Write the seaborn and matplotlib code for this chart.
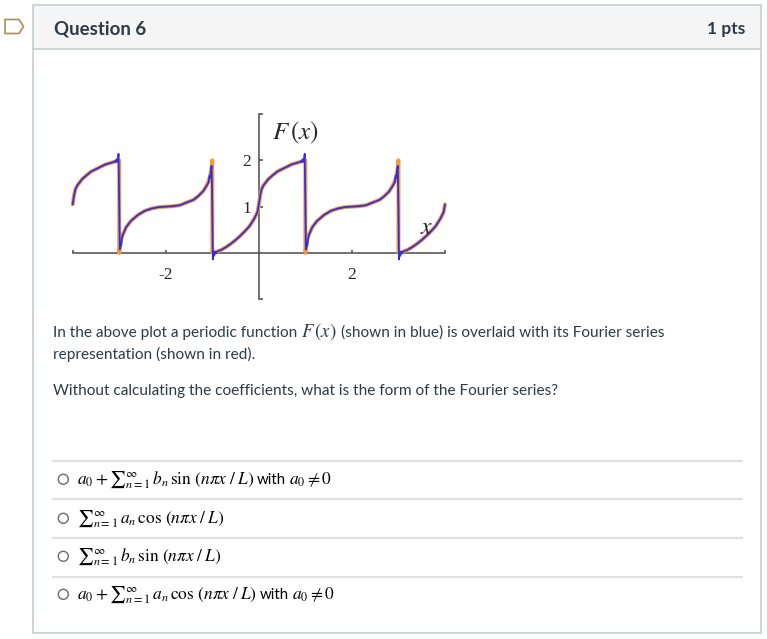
import numpy as np
import pandas as pd
import matplotlib
matplotlib.use("Agg")
import matplotlib.pyplot as plt
from matplotlib.patches import Rectangle, Polygon, Circle
import seaborn as sns

# --- data ------------------------------------------------------------------
# piece that is steep in the middle (offset from its centre -> value)
steep_u = [-1.0, -0.9, -0.8, -0.7, -0.6, -0.5, -0.4, -0.3, -0.2, -0.1, -0.03,
           0.0, 0.03, 0.06, 0.1, 0.2, 0.3, 0.4, 0.5, 0.6, 0.7, 0.8, 0.9, 1.0]
steep_y = [0.0, 0.03, 0.07, 0.13, 0.2, 0.28, 0.37, 0.47, 0.58, 0.74, 0.88,
           1.05, 1.25, 1.38, 1.46, 1.59, 1.68, 1.76, 1.81, 1.86, 1.91, 1.94, 1.97, 2.0]
# piece that is flat in the middle
flat_u = [-1.0, -0.97, -0.93, -0.85, -0.75, -0.6, -0.45, -0.3, -0.15, 0.0,
          0.15, 0.3, 0.45, 0.6, 0.7, 0.8, 0.87, 0.93, 0.97, 1.0]
flat_y = [0.0, 0.25, 0.38, 0.56, 0.69, 0.82, 0.91, 0.96, 0.99, 1.0,
          1.01, 1.03, 1.09, 1.15, 1.23, 1.33, 1.44, 1.58, 1.75, 2.0]

steep_centres = [-4, 0, 4]
flat_centres = [-2, 2]
jumps_after_steep = [-3, 1]
jumps_after_flat = [-1, 3]

# ripple of the series around each jump (offset -> value)
ripple_dx = [-0.08, -0.06, -0.045, -0.03, -0.015, 0.0, 0.012, 0.025, 0.04, 0.06, 0.08]
ripple_steep = [2.0, 1.96, 2.03, 1.98, 2.14, 1.05, 0.08, 0.2, 0.15, 0.33, 0.40]
ripple_flat = [1.52, 1.66, 1.62, 1.78, 1.88, 0.9, -0.14, 0.02, -0.06, 0.03, -0.01]

x_ticks = [-4, -2, 2, 4]
x_labels = ["", "-2", "2", ""]
y_ticks = [-1, 1, 2, 3]
y_labels = ["", "1", "2", ""]

option_math = [
    r"$a_0 + {\sum}_{n=1}^{\infty}\, b_n\, \sin\,(n\pi x\;/\;L)$",
    r"${\sum}_{n=1}^{\infty}\, a_n\, \cos\,(n\pi x\;/\;L)$",
    r"${\sum}_{n=1}^{\infty}\, b_n\, \sin\,(n\pi x\;/\;L)$",
    r"$a_0 + {\sum}_{n=1}^{\infty}\, a_n\, \cos\,(n\pi x\;/\;L)$",
]
option_tail = [r"$a_0 \neq 0$", None, None, r"$a_0 \neq 0$"]

# --- build the curves ---------------------------------------------------------
pieces = []
for c in [-4, -2, 0, 2, 4]:
    if c in steep_centres:
        u, y = np.array(steep_u), np.array(steep_y)
    else:
        u, y = np.array(flat_u), np.array(flat_y)
    x = c + u
    keep = (x >= -4 - 1e-9) & (x <= 4 + 1e-9)
    pieces.append(pd.DataFrame({"x": x[keep], "y": y[keep]}))
exact = pd.concat(pieces, ignore_index=True)

jumps = np.array(jumps_after_steep + jumps_after_flat)
dist = np.min(np.abs(exact["x"].values[:, None] - jumps[None, :]), axis=1)
series = [exact[dist > 0.095]]
for j in jumps_after_steep:
    series.append(pd.DataFrame({"x": j + np.array(ripple_dx), "y": ripple_steep}))
for j in jumps_after_flat:
    series.append(pd.DataFrame({"x": j + np.array(ripple_dx), "y": ripple_flat}))
series = pd.concat(series, ignore_index=True).sort_values("x")

# --- figure -----------------------------------------------------------------
sns.set_style("white")
plt.rcParams["mathtext.fontset"] = "stix"
plt.rcParams["font.family"] = ["Lato", "DejaVu Sans"]

W, H = 767, 639
fig = plt.figure(figsize=(W / 100, H / 100), dpi=100)
page = fig.add_axes([0, 0, 1, 1])
page.set_xlim(0, W)
page.set_ylim(H, 0)
page.axis("off")
renderer = fig.canvas.get_renderer()


def run(x, y, parts, **kw):
    # draw text pieces one after another on a shared baseline
    for txt, size, gap in parts:
        t = page.text(x + gap, y, txt, fontsize=size, va="baseline", ha="left", **kw)
        x = t.get_window_extent(renderer).x1
    return x


border = "#c7cdd1"
page.add_patch(Rectangle((33, 5), 728, 44, facecolor="#f5f5f5", edgecolor="none"))
page.add_patch(Rectangle((33, 5), 728, 628, fill=False, edgecolor=border, lw=1.2))
page.plot([33, 761], [49, 49], color=border, lw=1.2)
page.add_patch(Polygon([(5, 19.5), (19, 19.5), (23.5, 26.5), (19, 33.5), (5, 33.5)],
                       closed=True, facecolor="white", edgecolor="#a8905a", lw=1.2))

ink = "#2d3b45"
page.text(54, 29, "Question 6", fontsize=13.4, fontweight="bold", color=ink,
          va="center", ha="left")
page.text(745, 29, "1 pts", fontsize=12.5, fontweight="bold", color=ink,
          va="center", ha="right")

run(53, 337, [("In the above plot a periodic function", 11.1, 0),
              (r"$F\,(x)$", 13.5, 4),
              ("(shown in blue) is overlaid with its Fourier series", 11.1, 4)],
    color=ink)
page.text(53, 359, "representation (shown in red).", fontsize=11.1, color=ink, va="baseline")
page.text(53, 395, "Without calculating the coefficients, what is the form of the Fourier series?",
          fontsize=11.1, color=ink, va="baseline")

for yl in [460.5, 499, 537.5, 576.5]:
    page.plot([53, 742], [yl, yl], color="#e0e0e0", lw=1.6)
for yc, m, tail in zip([479.3, 518.3, 556.3, 594.3], option_math, option_tail):
    page.add_patch(Circle((63.3, yc), 5, fill=False, edgecolor="#6b6b6b", lw=1))
    parts = [(m, 12.5, 0)]
    if tail:
        parts += [("with", 10.8, 3), (tail, 12.5, 3)]
    run(77, yc + 4.5, parts, color="black")

# --- the plot ---------------------------------------------------------------
x0, x1 = 72.7, 445.0
ytop, ybot = 114.0, 299.3
ax = fig.add_axes([x0 / W, 1 - ybot / H, (x1 - x0) / W, (ybot - ytop) / H])
ax.patch.set_alpha(0)
sns.lineplot(data=exact, x="x", y="y", estimator=None, sort=False,
             color="#f5973a", lw=2.8, ax=ax)
sns.lineplot(data=series, x="x", y="y", estimator=None, sort=False,
             color="#3030e2", lw=1.3, ax=ax)
for ln in ax.lines:
    ln.set_clip_on(False)

ax.set_xlim(-4, 4)
ax.set_ylim(-1, 3)
ax.set_xlabel("")
ax.set_ylabel("")
for s in ["top", "right"]:
    ax.spines[s].set_visible(False)
axis_col = "#4a4a4a"
for s in ["left", "bottom"]:
    ax.spines[s].set_position(("data", 0))
    ax.spines[s].set_color(axis_col)
    ax.spines[s].set_linewidth(1.1)
    ax.spines[s].set_zorder(0)

ax.set_xticks(x_ticks)
ax.set_xticklabels(x_labels, fontfamily="Liberation Serif", fontsize=12.5)
ax.set_yticks(y_ticks)
ax.set_yticklabels(y_labels, fontfamily="Liberation Serif", fontsize=12.5)
ax.tick_params(axis="x", bottom=True, direction="in", length=2.2, width=1.1,
               color=axis_col, pad=10)
ax.tick_params(axis="y", left=True, direction="in", length=3, width=1.1,
               color=axis_col, pad=5.5)

ax.text(0.78, 2.59, r"$F\,(x)$", fontsize=18, ha="center", va="center")
ax.text(3.6, 0.55, r"$x$", fontsize=17, ha="center", va="center")

fig.savefig("out.png", dpi=100)
